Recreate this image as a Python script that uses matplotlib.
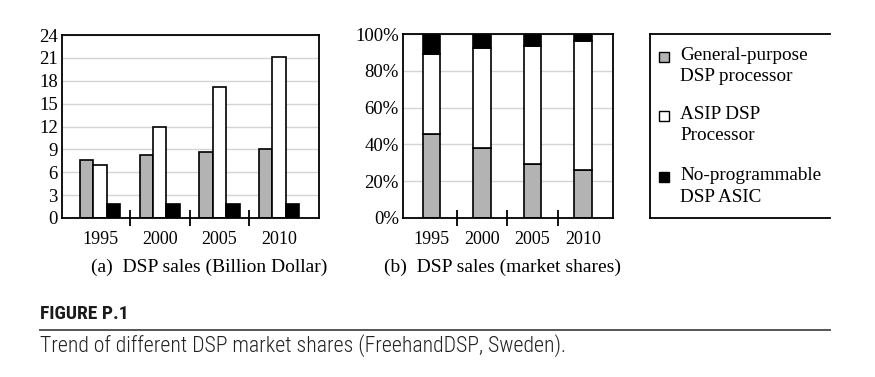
import numpy as np
import matplotlib
matplotlib.use("Agg")
import matplotlib.pyplot as plt
from matplotlib.patches import Rectangle
from matplotlib.lines import Line2D

# data
years = ["1995", "2000", "2005", "2010"]
# (a) sales in billion dollar
sales_general = [7.6, 8.3, 8.7, 9.1]
sales_asip = [6.9, 12.0, 17.2, 21.1]
sales_asic = [1.8, 1.8, 1.8, 1.8]
# (b) market shares in percent
share_general = [45.5, 37.8, 29.1, 26.0]
share_asip = [43.8, 54.6, 64.2, 70.0]
share_asic = [10.7, 7.6, 6.7, 4.0]

legend_labels = ["General-purpose\nDSP processor", "ASIP DSP\nProcessor",
                 "No-programmable\nDSP ASIC"]

GRAY = "#b3b3b3"
SERIF = ["Liberation Serif", "DejaVu Serif"]
NARROW = ["Liberation Sans Narrow", "DejaVu Sans Condensed", "Roboto Condensed",
          "Roboto", "DejaVu Sans"]

W, H = 875, 377
plt.rcParams["font.family"] = SERIF
plt.rcParams["font.size"] = 13
fig = plt.figure(figsize=(W / 100, H / 100), dpi=100)


def px_axes(x0, y0, x1, y1):
    return fig.add_axes([x0 / W, 1 - y1 / H, (x1 - x0) / W, (y1 - y0) / H])


def style_axes(ax, n):
    ax.set_axisbelow(True)
    ax.yaxis.grid(True, color="#d4d4d4", linewidth=1.0)
    for s in ax.spines.values():
        s.set_linewidth(1.3)
    ax.tick_params(axis="y", length=0, pad=3, labelsize=13.5)
    ax.tick_params(axis="x", which="major", length=0, pad=9, labelsize=13)
    ax.set_xticks(np.arange(n - 1) + 0.5, minor=True)
    ax.tick_params(axis="x", which="minor", direction="inout", length=12, width=1.3)


x = np.arange(len(years))

# (a) grouped bars
ax1 = px_axes(62, 35, 319, 218)
w = 0.225
ax1.bar(x - w, sales_general, w, color=GRAY, edgecolor="black", linewidth=1.2)
ax1.bar(x, sales_asip, w, color="white", edgecolor="black", linewidth=1.2)
ax1.bar(x + w, sales_asic, w, color="black", edgecolor="black", linewidth=1.2)
ax1.set_ylim(0, 24)
ax1.set_yticks(np.arange(0, 25, 3))
ax1.set_xlim(-0.64, 3.67)
ax1.set_xticks(x)
ax1.set_xticklabels(years)
style_axes(ax1, len(years))

# (b) stacked shares
ax2 = px_axes(403, 34, 613, 218)
wb = 0.337
g = np.array(share_general)
a = np.array(share_asip)
ax2.bar(x, g, wb, color=GRAY, edgecolor="black", linewidth=1.2)
ax2.bar(x, a, wb, bottom=g, color="white", edgecolor="black", linewidth=1.2)
ax2.bar(x, share_asic, wb, bottom=g + a, color="black", edgecolor="black", linewidth=1.2)
ax2.set_ylim(0, 100)
ax2.set_yticks(np.arange(0, 101, 20))
ax2.set_yticklabels([f"{v}%" for v in range(0, 101, 20)])
ax2.set_xlim(-0.564, 3.594)
ax2.set_xticks(x)
ax2.set_xticklabels(years)
style_axes(ax2, len(years))

fig.text(209 / W, 1 - 267 / H, "(a)  DSP sales (Billion Dollar)", ha="center", va="center", fontsize=14)
fig.text(502 / W, 1 - 267 / H, "(b)  DSP sales (market shares)", ha="center", va="center", fontsize=14)

# legend box (right side open, as in the reference)
axl = px_axes(650, 34, 830, 218)
axl.set_xticks([])
axl.set_yticks([])
axl.spines["right"].set_visible(False)
for s in ["left", "top", "bottom"]:
    axl.spines[s].set_linewidth(1.3)
axl.set_xlim(650, 830)
axl.set_ylim(218, 34)
colors = [GRAY, "white", "black"]
marker_y = [56.5, 115.5, 177]
for lab, c, my in zip(legend_labels, colors, marker_y):
    axl.add_patch(Rectangle((659, my - 5), 10, 10, facecolor=c, edgecolor="black", linewidth=1.0))
    axl.text(680, my - 10, lab, ha="left", va="top", fontsize=13.8, linespacing=1.35)

# figure caption
fig.text(40 / W, 1 - 314 / H, "FIGURE P.1", family=NARROW, weight="bold",
         fontsize=14, ha="left", va="center", color="#1a1a1a")
fig.add_artist(Line2D([40 / W, 830 / W], [1 - 329.5 / H] * 2, color="#555555", linewidth=1.4))
fig.text(40 / W, 1 - 346 / H, "Trend of different DSP market shares (FreehandDSP, Sweden).",
         family=NARROW, weight="light", fontsize=15.7, ha="left", va="center", color="#222222")

fig.savefig("out.png", dpi=100)
